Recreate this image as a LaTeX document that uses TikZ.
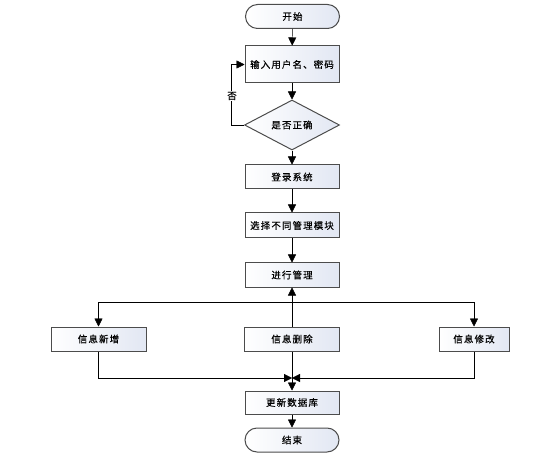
\documentclass[tikz,border=0pt]{standalone}
\usepackage{fontspec}
\newfontfamily\cjk[LetterSpace=12, FakeBold=0.4]{Noto Sans CJK SC}
\usepackage{tikz}
\usetikzlibrary{shapes.geometric, arrows.meta}

\begin{document}
\begin{tikzpicture}[x=1bp, y=-1bp, >={Triangle[length=8bp,width=8bp]}, box/.style={
		% The shape:
		rectangle,
		% The size:
		minimum width=94bp, minimum height=24bp, inner sep=0pt,
		% The border
		line width=1bp, draw=black!70,
		% The filling
		left color=white, right color={rgb,255:red,226;green,231;blue,243},
		% The text
		font=\cjk\fontsize{9.5}{11}\selectfont},
	term/.style={box, rounded corners=12bp},
	check/.style={box, diamond, minimum width=95bp, minimum height=36bp}]
    \useasboundingbox (0,0) rectangle (559,459);
    \node [term] (start) at (292.5,16.5) {开始};
    \node [box, minimum height=37bp] (input) at (292,64.5) {输入用户名、密码};
    \node [check] (ok) at (292,125) {是否正确};
    \node [box] (login) at (292,177) {登录系统};
    \node [box, minimum height=25bp] (select) at (292,225.5) {选择不同管理模块};
    \node [box] (manage) at (292,275) {进行管理};
    \node [box, minimum width=95bp] (add) at (98.5,339) {信息新增};
    \node [box, minimum width=95bp] (delete) at (292,339) {信息删除};
    \node [box, minimum width=70bp] (modify) at (474,339) {信息修改};
    \node [box, minimum height=23bp] (update) at (292,402.5) {更新数据库};
    \node [term] (finish) at (292,440) {结束};
    \draw [->] (start) -- (input);
    \draw [->] (input) -- (ok);
    \draw [->] (ok.west) -- ++(-13,0) coordinate (back) |- (input.west);
    \node [fill=white, inner sep=1pt, font=\cjk\fontsize{9.5}{11}\selectfont] (no) at (232,96) {否};
    \draw [->] (ok) -- (login);
    \draw [->] (login) -- (select);
    \draw [->] (select) -- (manage);
    \draw [->] (delete) -- (manage);
    \coordinate (split) at (292,302);
    \draw [->] (split) -| (add);
    \draw [->] (split) -| (modify);
    \coordinate (join) at (292,378);
    \draw [->] (add) |- (join);
    \draw [->] (modify) |- (join);
    \draw [->] (delete) -- (update);
    \draw [->] (update) -- (finish);
\end{tikzpicture}
\end{document}
